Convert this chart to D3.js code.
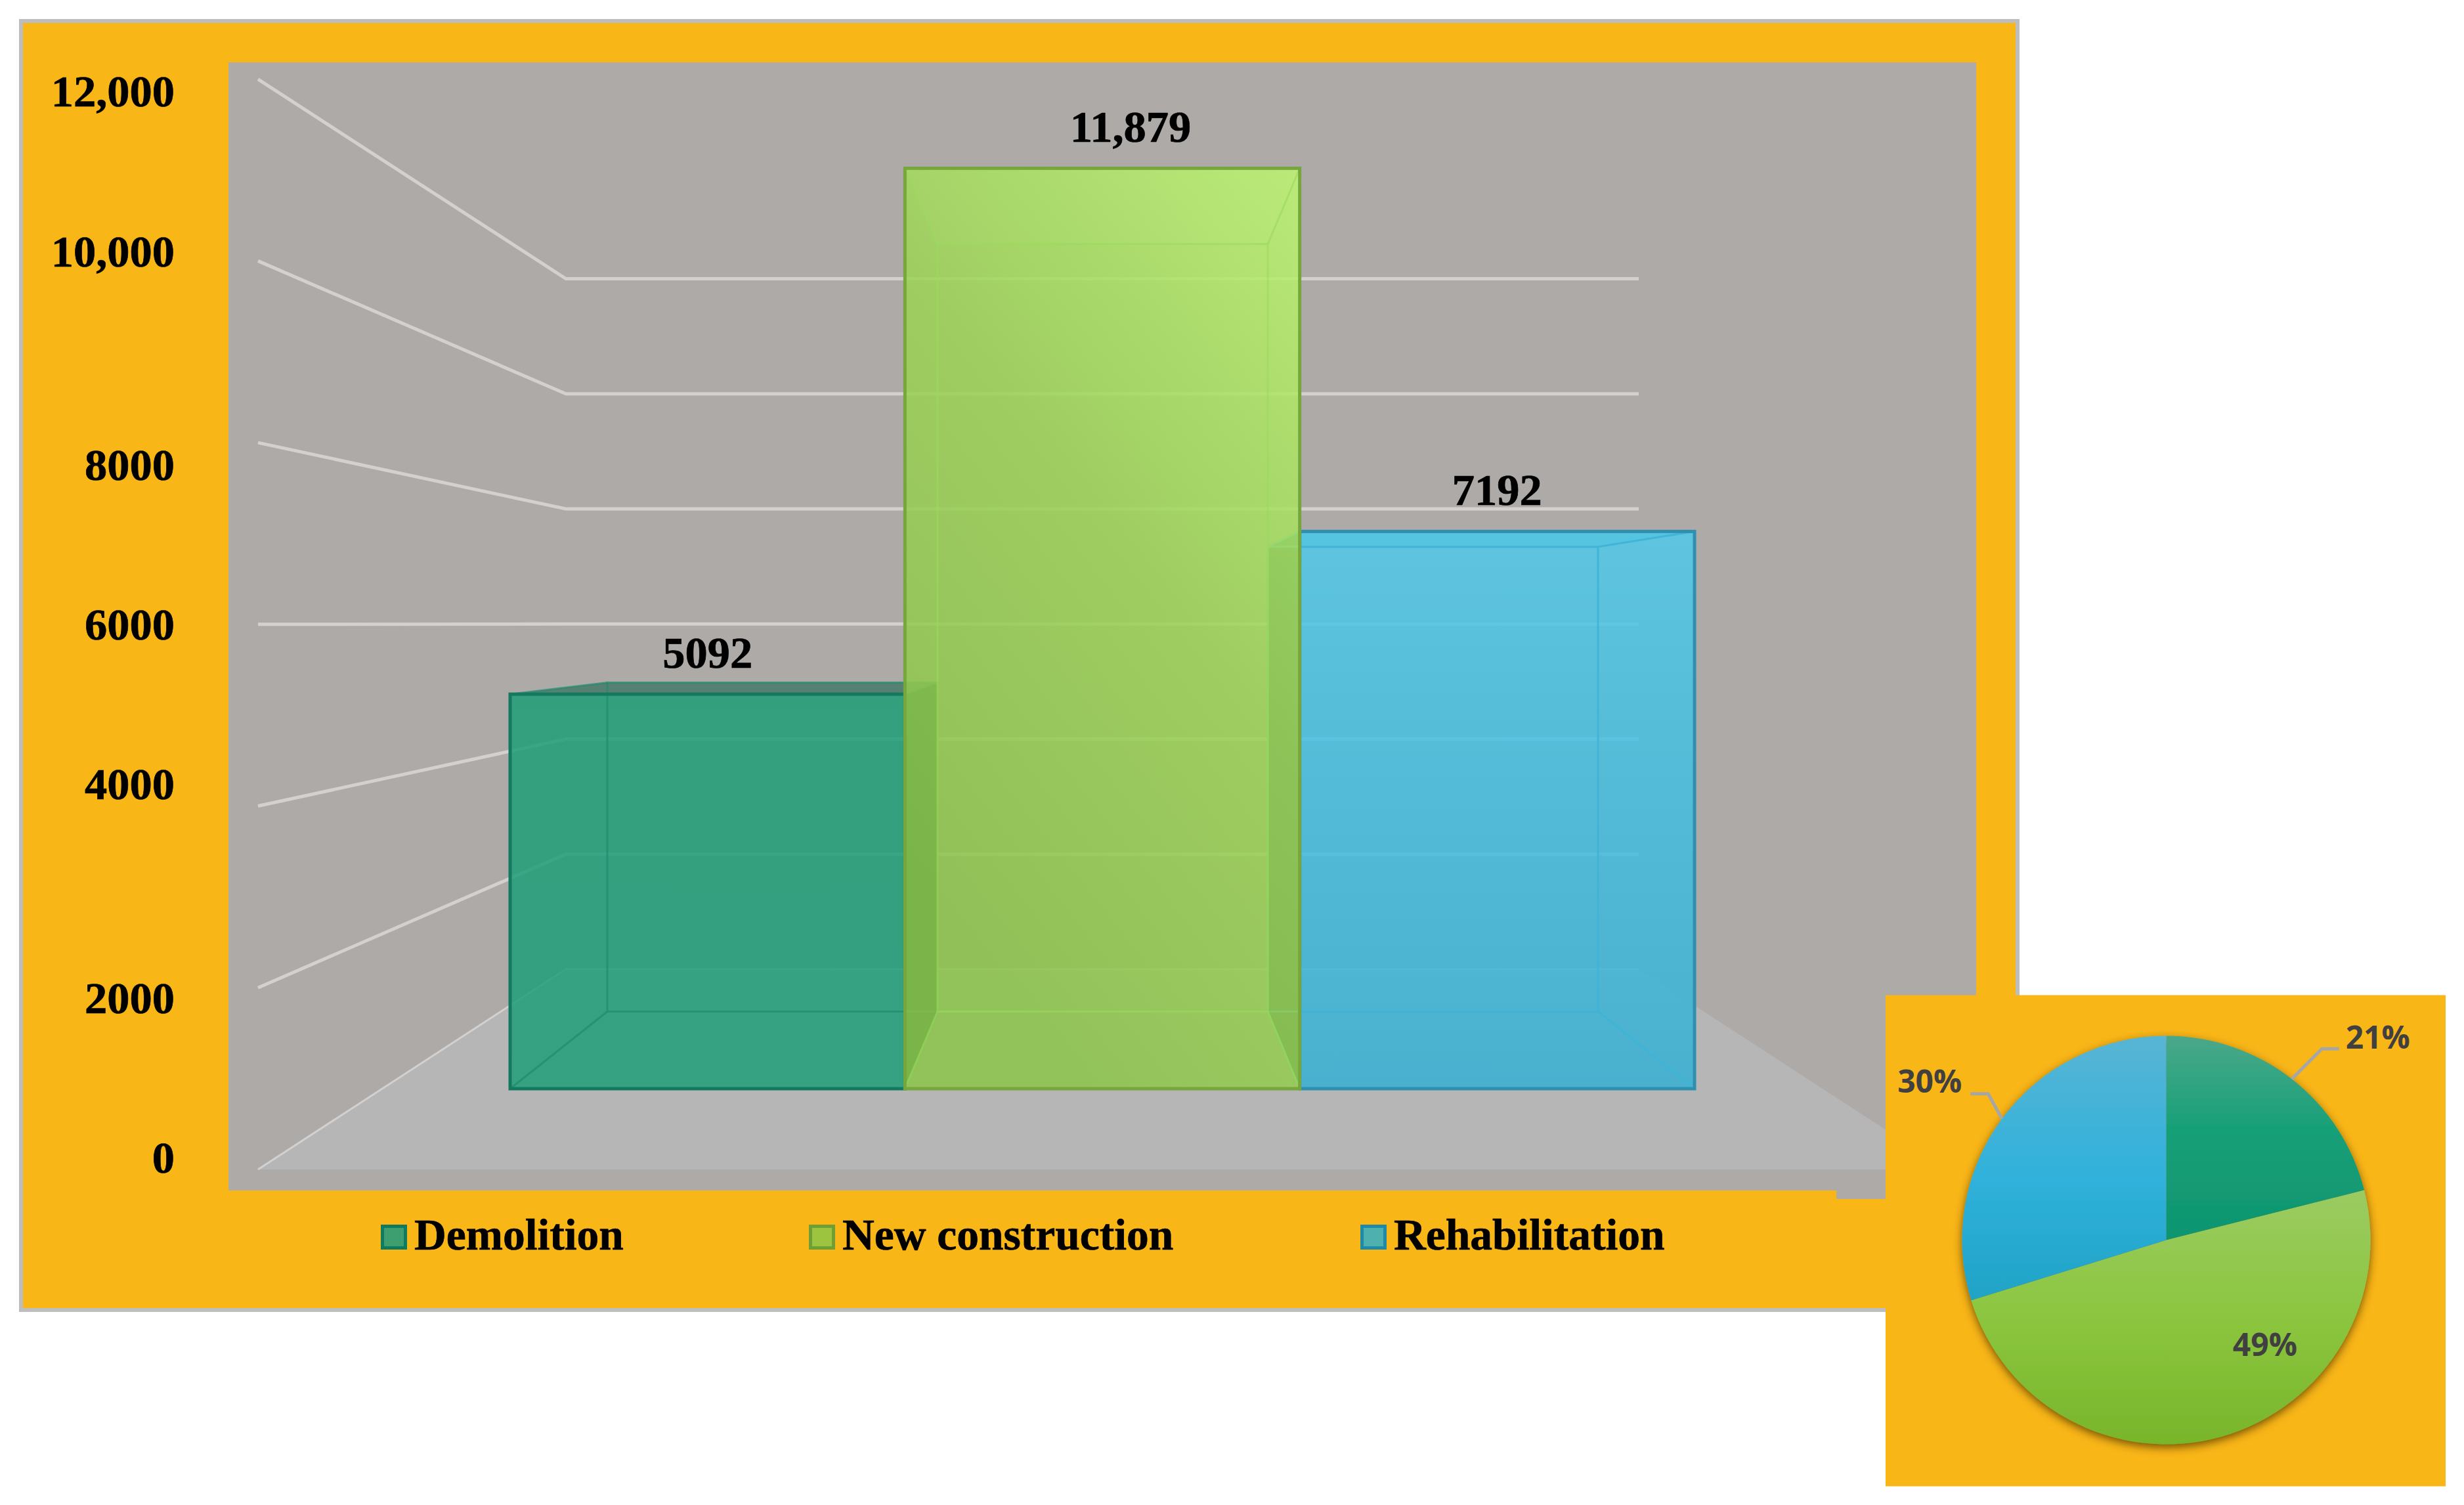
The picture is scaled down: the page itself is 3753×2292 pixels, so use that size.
<!DOCTYPE html>
<html>
<head>
    <title>Projects by type</title>
    <script src="https://cdn.jsdelivr.net/npm/d3@7"></script>
    <style>
        body { margin: 0; background: #fff; }
        svg { display: block; }
        .serif { font-family: "Liberation Serif", serif; font-weight: bold; fill: #000; stroke: #000; stroke-width: 0.7px; }
    </style>
</head>
<body>
    <div id="chart"></div>
    <script>
        var categories = ["Demolition", "New construction", "Rehabilitation"];
        var values = [5092, 11879, 7192];
        var valueLabels = ["5092", "11,879", "7192"];
        var yTicks = [0, 2000, 4000, 6000, 8000, 10000, 12000];
        var yTickLabels = ["0", "2000", "4000", "6000", "8000", "10,000", "12,000"];

        var frontFill = ["url(#barDemolition)", "url(#barNew)", "url(#barRehab)"];
        var sideFill = ["#1a5a45", null, "#366765"];
        var edgeColor = ["#14795f", "#76a63c", "#2f8fae"];
        var innerColor = ["#1f8c6e", "#9adb5e", "#3fb4d6"];
        var innerOpacity = [0.7, 0.6, 0.9];
        var swatchFill = ["#3d9f6f", "#9dc43f", "#4fb0b0"];
        var swatchEdge = ["#0f7a60", "#6f9e35", "#1f8aa8"];
        var sliceFill = ["url(#pieDemolition)", "url(#pieNew)", "url(#pieRehab)"];

        var svg = d3.select("#chart").append("svg")
            .attr("width", 3753)
            .attr("height", 2292);

        var defs = svg.append("defs");

        function gradient(id, x1, y1, x2, y2, stops) {
            var g = defs.append("linearGradient").attr("id", id)
                .attr("x1", x1).attr("y1", y1).attr("x2", x2).attr("y2", y2);
            stops.forEach(function(s) {
                g.append("stop").attr("offset", s[0]).attr("stop-color", s[1]);
            });
        }
        gradient("barDemolition", 0, 0, 0, 1, [[0, "#1e9e76"], [1, "#1f9e78"]]);
        gradient("barNew", 1, 0, 0.45, 1, [[0, "#bcf570"], [0.5, "#9cd355"], [1, "#8cc44a"]]);
        gradient("barRehab", 0, 0, 0, 1, [[0, "#50c9ea"], [1, "#36b0d3"]]);
        gradient("pieDemolition", 0, 0, 0, 1, [[0, "#4aa88a"], [0.45, "#18a078"], [1, "#0e9570"]]);
        gradient("pieNew", 0, 0, 0, 1, [[0, "#9bcb62"], [0.5, "#8cc63f"], [1, "#78b52b"]]);
        gradient("pieRehab", 0, 0, 0, 1, [[0, "#58b5d4"], [0.55, "#2fb1db"], [1, "#20a3c6"]]);

        var shadow = defs.append("filter").attr("id", "pieShadow")
            .attr("x", "-10%").attr("y", "-10%").attr("width", "120%").attr("height", "120%");
        shadow.append("feDropShadow")
            .attr("dx", 0).attr("dy", 5).attr("stdDeviation", 7)
            .attr("flood-color", "#4a3000").attr("flood-opacity", 0.75);

        // frame and walls
        svg.append("rect").attr("x", 32).attr("y", 32).attr("width", 3041).attr("height", 1963)
            .attr("fill", "#f9b617").attr("stroke", "#bdbdbd").attr("stroke-width", 6);
        svg.append("rect").attr("x", 348).attr("y", 95).attr("width", 2662).attr("height", 1718)
            .attr("fill", "#aeaaa8");
        svg.append("rect").attr("x", 2797).attr("y", 1800).attr("width", 213).attr("height", 26)
            .attr("fill", "#aeaaa8");

        // the wall is a flat panel, the sides run forward to the front plane
        var frontY = d3.scaleLinear().domain([0, 12000]).range([1781, 120.7]);
        var backY = d3.scaleLinear().domain([0, 12000]).range([1476, 424.6]);
        var labelY = d3.scaleLinear().domain(yTicks).range([1785, 1542, 1216, 973, 730, 405, 161]);

        var floorX = [393, 862, 2496, 2965];
        svg.append("path")
            .attr("d", d3.line()([[floorX[0], frontY(0)], [floorX[1], backY(0)], [floorX[2], backY(0)], [floorX[3], frontY(0)]]) + "Z")
            .attr("fill", "#b6b6b6");

        svg.selectAll(".grid").data(yTicks).enter().append("path")
            .attr("class", "grid")
            .attr("fill", "none")
            .attr("stroke", "#d3d1d0")
            .attr("stroke-width", function(d) { return d === 0 ? 3 : 5; })
            .attr("d", function(d) {
                return d3.line()([[floorX[0], frontY(d)], [floorX[1], backY(d)], [floorX[2], backY(d)]]);
            });

        var axis = d3.axisLeft(labelY)
            .tickValues(yTicks)
            .tickSize(0)
            .tickPadding(0)
            .tickFormat(function(d, i) { return yTickLabels[i]; });

        var axisG = svg.append("g").attr("transform", "translate(266,0)").call(axis);
        axisG.select(".domain").remove();
        axisG.selectAll("text")
            .attr("class", "serif")
            .attr("dy", 0)
            .style("font-size", "68.5px");

        // bars, front plane and rear plane of each box
        var xFront = d3.scaleBand().domain(categories).range([777, 2581]);
        var xBack = d3.scaleBand().domain(categories).range([925, 2434]);
        var barFront = d3.scaleLinear().domain([0, 12000]).range([1658, 1658 - 12000 * 0.118]);
        var barBack = d3.scaleLinear().domain([0, 12000]).range([1540.5, 1540.5 - 12000 * 0.0984]);

        // new construction sits over its neighbours
        [0, 2, 1].forEach(function(i) {
            var c = categories[i], v = values[i];
            var fl = xFront(c), fr = fl + xFront.bandwidth();
            var bl = xBack(c), br = bl + xBack.bandwidth();
            var g = svg.append("g");

            var topFace = [[fl, barFront(v)], [bl, barBack(v)], [br, barBack(v)], [fr, barFront(v)]];

            // side face that shows through the middle box
            if (sideFill[i]) {
                var sx = i === 0 ? fr : fl, bx = i === 0 ? br : bl;
                g.append("path")
                    .attr("d", d3.line()([[sx, barFront(v)], [bx, barBack(v)], [bx, barBack(0)], [sx, barFront(0)]]) + "Z")
                    .attr("fill", sideFill[i]);
            }

            g.append("rect")
                .attr("x", fl).attr("y", barFront(v))
                .attr("width", fr - fl).attr("height", barFront(0) - barFront(v))
                .attr("fill", frontFill[i])
                .attr("fill-opacity", 0.85);

            g.append("path")
                .attr("d", d3.line()(topFace) + "Z")
                .attr("fill", i === 0 ? "#0c5c46" : (i === 2 ? "#3fc4e6" : "#c8f58a"))
                .attr("fill-opacity", i === 0 ? 0.55 : (i === 2 ? 0.3 : 0.08));

            // inner edges
            g.append("rect")
                .attr("x", bl).attr("y", barBack(v))
                .attr("width", br - bl).attr("height", barBack(0) - barBack(v))
                .attr("fill", "none")
                .attr("stroke", innerColor[i]).attr("stroke-width", 3)
                .attr("stroke-opacity", innerOpacity[i]);
            [[fl, barFront(v), bl, barBack(v)], [fr, barFront(v), br, barBack(v)],
             [fl, barFront(0), bl, barBack(0)], [fr, barFront(0), br, barBack(0)]].forEach(function(e) {
                g.append("line")
                    .attr("x1", e[0]).attr("y1", e[1]).attr("x2", e[2]).attr("y2", e[3])
                    .attr("stroke", innerColor[i]).attr("stroke-width", 3)
                    .attr("stroke-opacity", innerOpacity[i]);
            });

            g.append("rect")
                .attr("x", fl).attr("y", barFront(v))
                .attr("width", fr - fl).attr("height", barFront(0) - barFront(v))
                .attr("fill", "none")
                .attr("stroke", edgeColor[i]).attr("stroke-width", 5);
        });

        var labelShift = [0, 43, 0];
        svg.selectAll(".value").data(values).enter().append("text")
            .attr("class", "value serif")
            .attr("text-anchor", "middle")
            .style("font-size", "68.5px")
            .attr("x", function(d, i) { return xFront(categories[i]) + xFront.bandwidth() / 2 + labelShift[i]; })
            .attr("y", function(d) { return barFront(d) - 40; })
            .text(function(d, i) { return valueLabels[i]; });

        // legend
        var legendX = d3.scaleOrdinal().domain(categories).range([580, 1232, 2072]);
        var legend = svg.selectAll(".legend").data(categories).enter().append("g")
            .attr("class", "legend")
            .attr("transform", function(d) { return "translate(" + legendX(d) + ",1865)"; });
        legend.append("rect")
            .attr("x", 2.5).attr("y", 2.5).attr("width", 35).attr("height", 33)
            .attr("fill", function(d, i) { return swatchFill[i]; })
            .attr("stroke", function(d, i) { return swatchEdge[i]; })
            .attr("stroke-width", 5);
        legend.append("text")
            .attr("class", "serif")
            .attr("x", 51).attr("y", 38)
            .style("font-size", "67.5px")
            .text(function(d) { return d; });

        // inset pie
        svg.append("rect").attr("x", 2872).attr("y", 1515.5).attr("width", 853).attr("height", 748)
            .attr("fill", "#f9b617");

        var pieX = 3299.5, pieY = 1888.5, pieR = 311;
        var pie = d3.pie().sort(null);
        var slices = pie(values);
        var arc = d3.arc().innerRadius(0).outerRadius(pieR);
        var rim = d3.arc().innerRadius(pieR).outerRadius(pieR);
        var pct = d3.format(".0%");
        var total = d3.sum(values);

        var pieG = svg.append("g").attr("transform", "translate(" + pieX + "," + pieY + ")");
        pieG.append("g").attr("filter", "url(#pieShadow)")
            .selectAll("path").data(slices).enter().append("path")
            .attr("d", arc)
            .attr("fill", function(d, i) { return sliceFill[i]; });

        // elbow and text offsets from the rim of each slice
        var leaderOffset = [[46, -46, 26], null, [-21, -38, -27]];
        var pctOffset = [[82, -46, "start"], [17.5, -123, "start"], [-61, -40, "end"]];

        slices.forEach(function(d, i) {
            var p = rim.centroid(d);
            var o = leaderOffset[i];
            if (o) {
                pieG.append("path")
                    .attr("fill", "none")
                    .attr("stroke", "#a6a6a6")
                    .attr("stroke-width", 5)
                    .attr("d", d3.line()([p, [p[0] + o[0], p[1] + o[1]], [p[0] + o[0] + o[2], p[1] + o[1]]]));
            }
            var t = pctOffset[i];
            pieG.append("text")
                .attr("x", p[0] + t[0])
                .attr("y", p[1] + t[1])
                .attr("text-anchor", t[2])
                .style("font-family", "'Open Sans', sans-serif")
                .style("font-weight", 700)
                .style("font-size", "48px")
                .style("fill", "#404040")
                .text(pct(d.value / total));
        });
    </script>
</body>
</html>
